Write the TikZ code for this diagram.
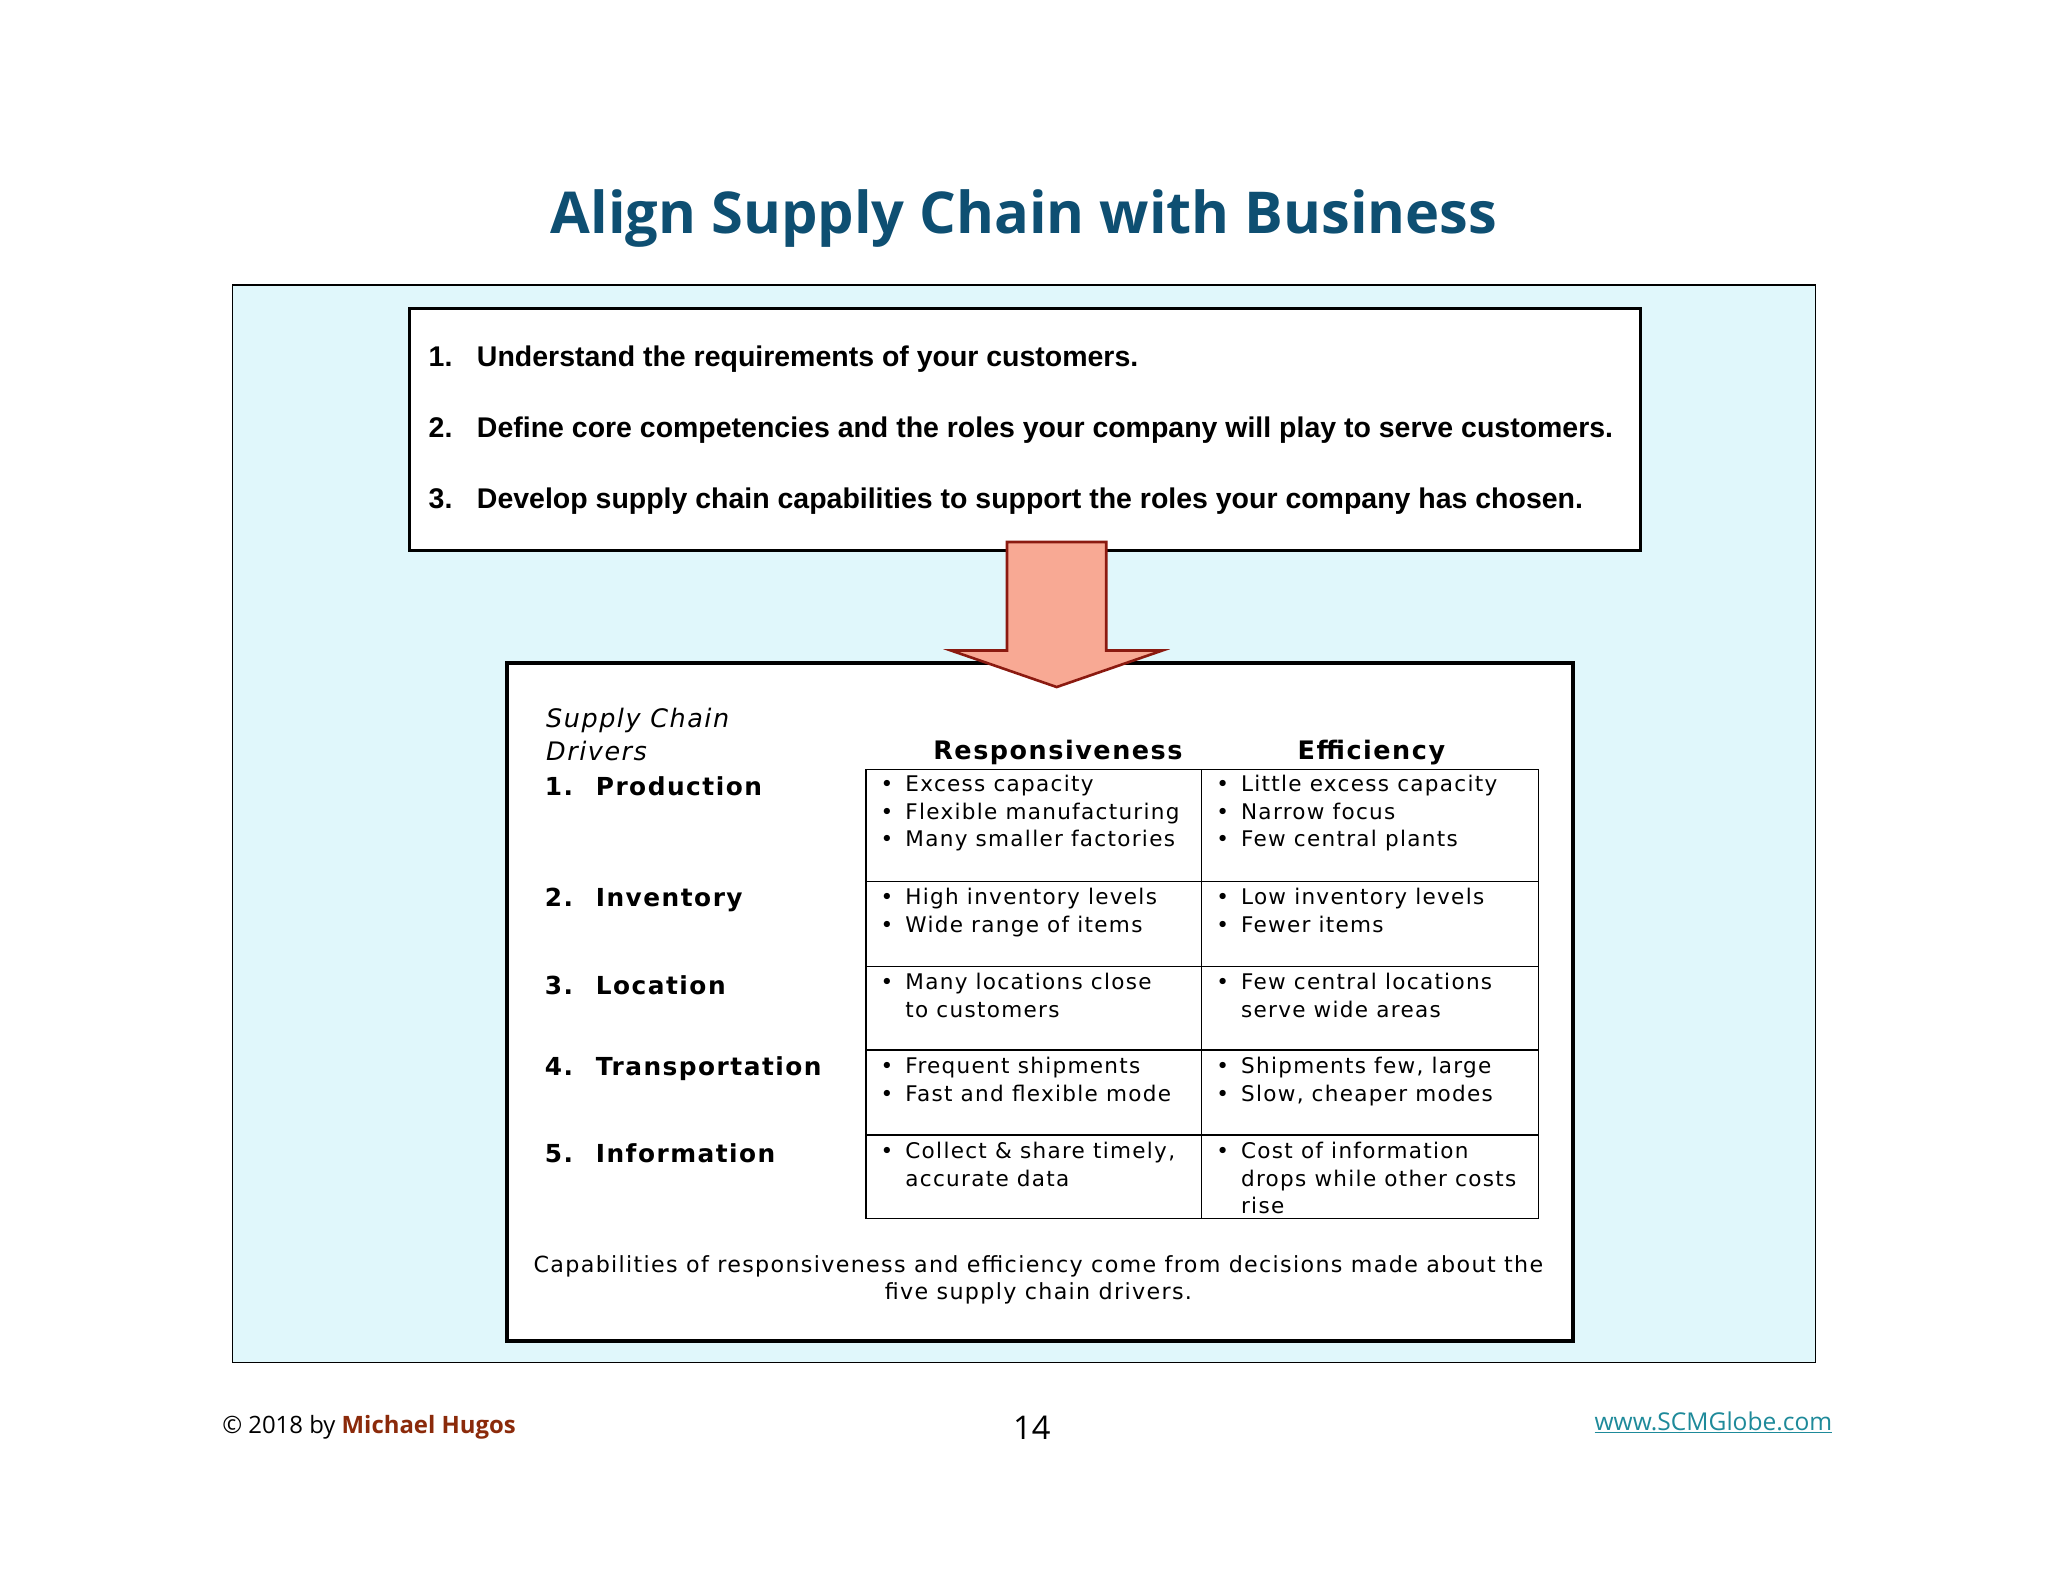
\documentclass[tikz,border=0pt]{standalone}
\usepackage{fontspec}
\setmainfont{Liberation Sans}
\newfontfamily\dv[LetterSpace=6]{DejaVu Sans}
\newfontfamily\ttl{Open Sans}
\definecolor{bgblue}{HTML}{E0F7FB}
\definecolor{ttlc}{HTML}{0E4F72}
\definecolor{arrf}{HTML}{F8A994}
\definecolor{arrd}{HTML}{8B1A10}
\definecolor{mh}{HTML}{8B2A0A}
\definecolor{web}{HTML}{1E8A9A}
\begin{document}
\begin{tikzpicture}[x=1pt,y=-1pt,
  item/.style={anchor=west,font=\fontsize{21.8}{26}\selectfont\bfseries},
  cell/.style={anchor=north west,font=\dv\fontsize{16.5}{21.3}\selectfont,align=left,inner sep=0pt},
  drv/.style={anchor=west,font=\dv\fontsize{19}{22}\selectfont\bfseries,inner sep=0pt},
  hdr/.style={font=\dv\fontsize{19.5}{22}\selectfont\bfseries,inner sep=0pt}]
\useasboundingbox (0,0) rectangle (1568,1211);
\fill[white] (0,0) rectangle (1568,1211);
\node[font=\ttl\fontsize{44.2}{50}\selectfont\bfseries,text=ttlc] (title) at (784,167) {Align Supply Chain with Business};
\draw[fill=bgblue,line width=1.2pt] (178,218) rectangle (1390,1043);
\node[draw=black,line width=2.5pt,fill=white,minimum width=943,minimum height=185,anchor=north west,inner sep=0] (top) at (312,235) {};
\node[item,inner sep=0] at (328,275) {\makebox[37pt][l]{1.}Understand the requirements of your customers.};
\node[item,inner sep=0] at (328,329) {\makebox[37pt][l]{2.}Define core competencies and the roles your company will play to serve customers.};
\node[item,inner sep=0] at (328,384) {\makebox[37pt][l]{3.}Develop supply chain capabilities to support the roles your company has chosen.};
\node[draw=black,line width=3pt,fill=white,minimum width=816,minimum height=519,anchor=north west,inner sep=0] (bot) at (387,506) {};
\draw[fill=arrf,draw=arrd,line width=2pt] (771,415) -- (847,415) -- (847,498) -- (890,498) -- (809,526) -- (728,498) -- (771,498) -- cycle;
% table
\draw[line width=1.2pt] (663,589) rectangle (1178,933);
\draw[line width=1.2pt] (920,589) -- (920,933);
\foreach \y in {675,740,804,869} \draw[line width=1.2pt] (663,\y) -- (1178,\y);
\node[anchor=north west,font=\dv\itshape\fontsize{19.5}{25}\selectfont,align=left,inner sep=0pt] (scd) at (418,542) {Supply Chain\\Drivers};
\node[hdr] (h1) at (810,576) {Responsiveness};
\node[hdr] (h2) at (1050,576) {Efficiency};
\node[drv] at (417,602) {\makebox[39pt][l]{1.}Production};
\node[drv] at (417,689) {\makebox[39pt][l]{2.}Inventory};
\node[drv] at (417,754) {\makebox[39pt][l]{3.}Location};
\node[drv] at (417,818) {\makebox[39pt][l]{4.}Transportation};
\node[drv] at (417,883) {\makebox[39pt][l]{5.}Information};
\newcommand{\bl}{\makebox[19pt][l]{\textbullet}}
\newcommand{\ind}{\hspace*{19pt}}
\node[cell] at (674,593) {\bl Excess capacity\\\bl Flexible manufacturing\\\bl Many smaller factories};
\node[cell] at (931,593) {\bl Little excess capacity\\\bl Narrow focus\\\bl Few central plants};
\node[cell] at (674,680) {\bl High inventory levels\\\bl Wide range of items};
\node[cell] at (931,680) {\bl Low inventory levels\\\bl Fewer items};
\node[cell] at (674,745) {\bl Many locations close\\\ind to customers};
\node[cell] at (931,745) {\bl Few central locations\\\ind serve wide areas};
\node[cell] at (674,809) {\bl Frequent shipments\\\bl Fast and flexible mode};
\node[cell] at (931,809) {\bl Shipments few, large\\\bl Slow, cheaper modes};
\node[cell] at (674,874) {\bl Collect \& share timely,\\\ind accurate data};
\node[cell] at (931,874) {\bl Cost of information\\\ind drops while other costs\\\ind rise};
\node[font=\dv\fontsize{17}{21}\selectfont,align=center] (cap) at (795,980) {Capabilities of responsiveness and efficiency come from decisions made about the\\five supply chain drivers.};
% footer
\node[anchor=west,font=\ttl\fontsize{18.3}{20}\selectfont,inner sep=0] (copy) at (170,1093) {© 2018 by \textcolor{mh}{\bfseries Michael Hugos}};
\node[font=\ttl\fontsize{25}{28}\selectfont] (pg) at (790,1093) {14};
\node[anchor=east,font=\ttl\fontsize{18.8}{20}\selectfont,text=web,inner sep=0] (www) at (1403,1089) {\underline{www.SCMGlobe.com}};
\end{tikzpicture}
\end{document}
